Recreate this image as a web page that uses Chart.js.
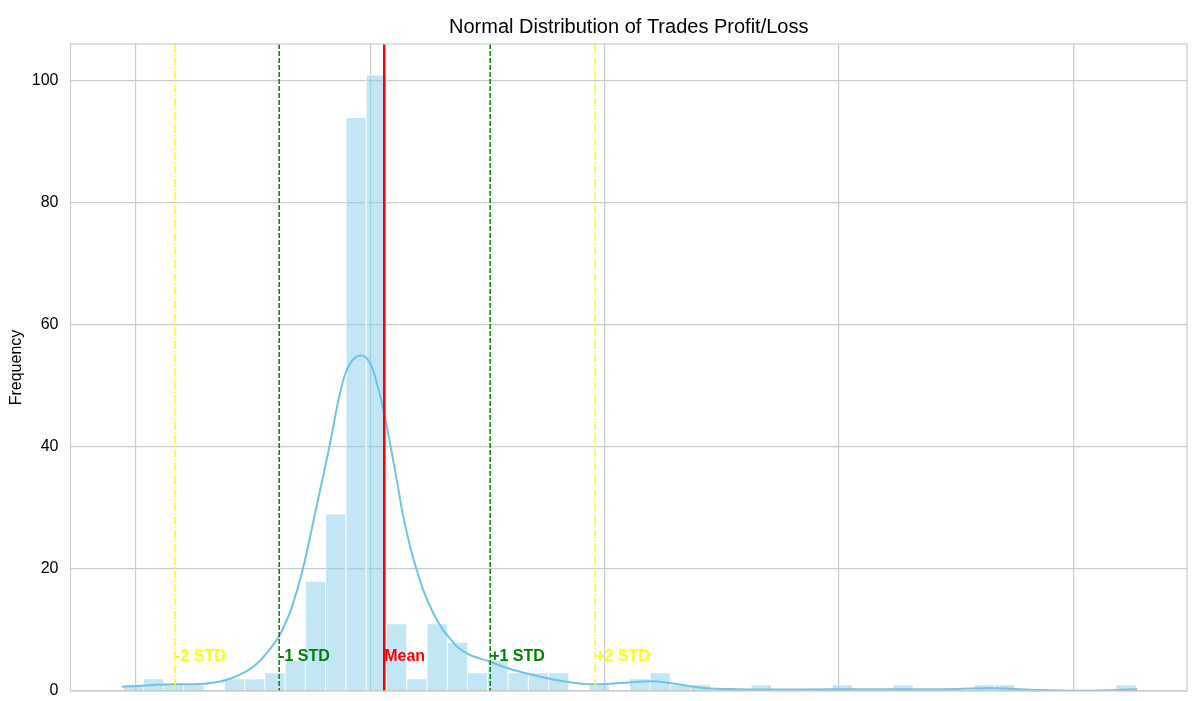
<!DOCTYPE html>
<html lang="en">
<head>
<meta charset="UTF-8">
<title>Normal Distribution of Trades Profit/Loss</title>
<script src="https://cdn.jsdelivr.net/npm/chart.js@4.4.1/dist/chart.umd.min.js"></script>
<style>
  html, body { margin: 0; padding: 0; background: #ffffff; }
  #wrap { width: 1200px; height: 701px; }
</style>
</head>
<body>
<div id="wrap"><canvas id="histo"></canvas></div>
<script>
// histogram: 50 bins of profit/loss, counts
const binStart = -105.4;
const binWidth = 8.643;
const binCounts = [1, 2, 1, 1, 0, 2, 2, 3, 5, 18,
                   29, 94, 101, 11, 2, 11, 8, 3, 5, 3,
                   3, 3, 0, 1, 0, 2, 3, 1, 1, 0,
                   0, 1, 0, 0, 0, 1, 0, 0, 1, 0,
                   0, 0, 1, 1, 0, 0, 0, 0, 0, 1];

// kde curve (scaled to counts)
const kdeX = [-105.8, -93.9, -83.6, -72.5, -64.0, -59.7, -55.5, -51.2, -46.9, -42.7,
              -39.1, -36.3, -33.4, -28.7, -23.0, -17.4, -12.1, -8.0, -3.5, 0,
              2.9, 5.7, 8.5, 11.4, 14.2, 17.1, 19.9, 22.7, 27.0, 31.3,
              34.1, 37.0, 42.0, 46.9, 51.2, 59.7, 71.1, 82.5, 93.9, 106.7,
              119.5, 128, 142, 156.6, 183.4, 213.3, 243.2, 264.5, 285.8, 299.9,
              311.4, 327.2];
const kdeY = [0.7, 0.95, 1.1, 1.15, 1.56, 2.0, 2.7, 3.6, 5.0, 6.9,
              8.8, 11.0, 13.7, 20, 30, 40, 50, 54, 55.0, 53.7,
              50.4, 46.0, 40.6, 34.5, 28.5, 23.6, 19.8, 16.5, 12.7, 9.9,
              8.6, 7.3, 6.0, 5.3, 4.8, 3.6, 2.5, 1.6, 1.1, 1.3,
              1.6, 1.3, 0.5, 0.3, 0.25, 0.3, 0.3, 0.45, 0.15, 0.05,
              0.1, 0.3];

// mean and std markers
const markLabels = ['-2 STD', '-1 STD', 'Mean', '+1 STD', '+2 STD'];
const markValues = [-83.2, -38.8, 6.0, 51.2, 96.0];

const xGridTicks = [-100, 0, 100, 200, 300];
const yTicks = [0, 20, 40, 60, 80, 100];

const FONT = "'Liberation Sans', Arial, Helvetica, sans-serif";

const markStyle = {
  '-2 STD': { color: '#ffff00', width: 1.5, dash: [8, 2, 1.5, 2] },
  '-1 STD': { color: '#008000', width: 1.5, dash: [5, 2] },
  'Mean':   { color: '#ff0000', width: 2.5, dash: [] },
  '+1 STD': { color: '#008000', width: 1.5, dash: [5, 2] },
  '+2 STD': { color: '#ffff00', width: 1.5, dash: [8, 2, 1.5, 2] }
};

const barData = binCounts.map((c, i) => ({ x: binStart + (i + 0.5) * binWidth, y: c }));
const kdeData = kdeX.map((x, i) => ({ x: x, y: kdeY[i] }));

const markPlugin = {
  id: 'marks',
  afterDatasetsDraw(chart) {
    const ctx = chart.ctx;
    const xs = chart.scales.x, ys = chart.scales.y;
    const area = chart.chartArea;
    ctx.save();
    markValues.forEach((v, i) => {
      const st = markStyle[markLabels[i]];
      const px = xs.getPixelForValue(v);
      ctx.beginPath();
      ctx.strokeStyle = st.color;
      ctx.lineWidth = st.width;
      ctx.setLineDash(st.dash);
      ctx.moveTo(px, area.top);
      ctx.lineTo(px, area.bottom);
      ctx.stroke();
    });
    ctx.setLineDash([]);
    ctx.font = 'bold 16px ' + FONT;
    ctx.textAlign = 'left';
    ctx.textBaseline = 'alphabetic';
    markValues.forEach((v, i) => {
      const st = markStyle[markLabels[i]];
      ctx.fillStyle = st.color;
      ctx.fillText(markLabels[i], xs.getPixelForValue(v), ys.getPixelForValue(5));
    });
    // frame
    ctx.strokeStyle = '#cccccc';
    ctx.lineWidth = 1.2;
    ctx.strokeRect(area.left, area.top, area.right - area.left, area.bottom - area.top);
    ctx.restore();
  }
};

new Chart(document.getElementById('histo'), {
  type: 'bar',
  data: {
    datasets: [
      {
        type: 'line',
        label: 'KDE',
        data: kdeData,
        borderColor: 'rgb(112, 195, 230)',
        borderWidth: 2,
        pointRadius: 0,
        fill: false,
        tension: 0.4,
        order: 0
      },
      {
        type: 'bar',
        label: 'Trades',
        data: barData,
        backgroundColor: 'rgba(135, 206, 235, 0.5)',
        borderColor: '#ffffff',
        borderWidth: 0.8,
        barPercentage: 1.0,
        categoryPercentage: 1.0,
        order: 1
      }
    ]
  },
  options: {
    responsive: true,
    maintainAspectRatio: false,
    animation: false,
    layout: { padding: { left: 0, right: 13, top: 0, bottom: 10 } },
    plugins: {
      legend: { display: false },
      tooltip: { enabled: false },
      title: {
        display: true,
        text: 'Normal Distribution of Trades Profit/Loss',
        fullSize: false,
        color: '#000000',
        font: { family: FONT, size: 20, weight: 'normal' },
        padding: { top: 15, bottom: 5 }
      }
    },
    scales: {
      x: {
        type: 'linear',
        min: -127.8,
        max: 348.4,
        offset: false,
        afterBuildTicks: (s) => { s.ticks = xGridTicks.map(v => ({ value: v })); },
        afterFit: (s) => { s.height = 0; },
        grid: { color: '#cccccc', lineWidth: 1.2, drawTicks: false, offset: false },
        border: { display: false },
        ticks: { display: false }
      },
      y: {
        min: 0,
        max: 106.07,
        afterBuildTicks: (s) => { s.ticks = yTicks.map(v => ({ value: v })); },
        afterFit: (s) => { s.width = 70.5; s.paddingTop = 0; s.paddingBottom = 0; },
        grid: { color: '#cccccc', lineWidth: 1.2, drawTicks: false },
        border: { display: false },
        ticks: { color: '#000000', padding: 12, font: { family: FONT, size: 16 } },
        title: {
          display: true,
          text: 'Frequency',
          color: '#000000',
          font: { family: FONT, size: 16 },
          padding: { top: 7, bottom: 6 }
        }
      }
    }
  },
  plugins: [markPlugin]
});
</script>
</body>
</html>
